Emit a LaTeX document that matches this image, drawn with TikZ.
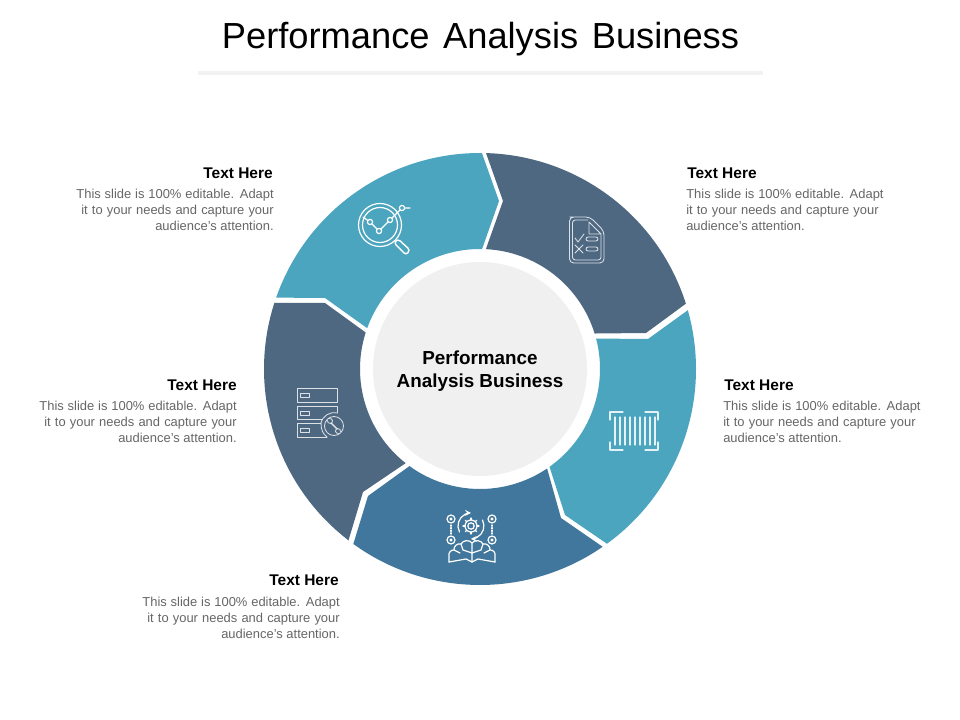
\documentclass[tikz,border=0pt]{standalone}
\usepackage{fontspec}
\setmainfont{Liberation Sans}
\definecolor{seg light}{HTML}{4CA5BF}
\definecolor{seg dark}{HTML}{4F6882}
\definecolor{seg mid}{HTML}{41779C}
\definecolor{disk gray}{HTML}{F0F0F0}
\definecolor{rule gray}{HTML}{F2F2F2}
\definecolor{body gray}{HTML}{666666}
\newcommand{\bodytext}{\makebox[140.3pt][s]{This slide is 100\% editable. Adapt}\\\makebox[136.8pt][s]{it to your needs and capture your}\\audience's attention.}

\begin{document}
\begin{tikzpicture}[x=0.025cm, y=-0.025cm]% pixels of the slide
            \tikzstyle{icon} = [white, line width=0.85pt, line cap=round, line join=round]
            \tikzstyle{thin icon} = [icon, line width=0.6pt, white!80!seg dark]
            \tikzstyle{head} = [font=\fontsize{11}{12}\selectfont\bfseries, inner sep=0pt]
            \tikzstyle{body} = [font=\fontsize{9.2}{11.34}\selectfont, text=body gray, inner sep=0pt]
            \useasboundingbox (0, 0) rectangle (960, 720);
            \fill[white] (0, 0) rectangle (960, 720);
            \node[font=\fontsize{25.8}{30}\selectfont, inner sep=0pt] (title) at (480.5, 39.5) {\makebox[367.8pt][s]{Performance Analysis Business}};
            \fill[rule gray] (198, 71.5) rectangle (763, 75.5);
            \begin{scope}[shift={(480, 369)}, y=0.025cm]
                \fill[seg light] (160.7:216) arc[start angle=160.7, end angle=89.5, radius=216] -- (19, 168) -- (89:120) arc[start angle=89, end angle=160.1, radius=120] -- (-155, 71) -- cycle;
                \fill[seg dark] (88.4:216) arc[start angle=88.4, end angle=17.6, radius=216] -- (166, 36) -- (17.2:120) arc[start angle=17.2, end angle=87.2, radius=120] -- (23, 168) -- cycle;
                \fill[seg light] (15.8:216) arc[start angle=15.8, end angle=-54, radius=216] -- (85, -146) -- (-54.6:120) arc[start angle=-54.6, end angle=14.7, radius=120] -- (168, 30) -- cycle;
                \fill[seg mid] (-55.4:216) arc[start angle=-55.4, end angle=-125.9, radius=216] -- (-112, -127) -- (-126:120) arc[start angle=-126, end angle=-56, radius=120] -- (81, -149) -- cycle;
                \fill[seg dark] (232.5:216) arc[start angle=232.5, end angle=162.2, radius=216] -- (-155, 66) -- (162.3:120) arc[start angle=162.3, end angle=231.7, radius=120] -- (-117, -123) -- cycle;
            \end{scope}
            \fill[disk gray] (480, 369) circle[radius=107];
            \node[inner sep=0pt, align=center, font=\fontsize{13.4}{16.3}\selectfont\bfseries] (disk) at (480, 371) {Performance\\Analysis Business};
            % text blocks
            \node[head, anchor=east] (head 1) at (273, 173) {Text Here};
            \node[body, anchor=north east, align=right] (body 1) at (274, 188.5) {\bodytext};
            \node[head, anchor=west] (head 2) at (687, 173) {Text Here};
            \node[body, anchor=north west, align=left] (body 2) at (686, 188.5) {\bodytext};
            \node[head, anchor=west] (head 3) at (724, 385) {Text Here};
            \node[body, anchor=north west, align=left] (body 3) at (723, 400.5) {\bodytext};
            \node[head, anchor=east] (head 4) at (339, 580) {Text Here};
            \node[body, anchor=north east, align=right] (body 4) at (340, 596.5) {\bodytext};
            \node[head, anchor=east] (head 5) at (237, 385) {Text Here};
            \node[body, anchor=north east, align=right] (body 5) at (237, 400.5) {\bodytext};
            % magnifier
            \draw[icon] (380, 225) circle[radius=21.5];
            \draw[icon] (380, 225) circle[radius=17.5];
            \draw[icon, line width=1pt, rounded corners=2pt] (394, 243) -- (398, 239) -- (410, 250) -- (406, 255) -- cycle;
            \draw[icon] (363, 217) -- (370, 222) -- (379, 231) -- (390, 220) -- (402, 208) -- (410, 208);
            \foreach \x/\y in {370/222, 379/231, 390/220, 402/208}
                \filldraw[icon, fill=seg light] (\x, \y) circle[radius=2.6];
            % document
            \draw[thin icon, rounded corners=3pt] (590, 217) -- (574, 217) -- (569.5, 217) -- (569.5, 263) -- (604, 263) -- (604, 231) -- cycle;
            \draw[thin icon, rounded corners=2pt] (588, 220) -- (572.5, 220) -- (572.5, 260) -- (601, 260) -- (601, 234);
            \draw[thin icon] (589, 222) -- (601, 234) -- (589, 234) -- cycle;
            \draw[thin icon] (575, 238) -- (578, 242) -- (584, 234);
            \draw[thin icon, rounded corners=1.5pt] (586, 237) rectangle (598, 241);
            \draw[thin icon] (575, 245) -- (583, 253) (583, 245) -- (575, 253);
            \draw[thin icon, rounded corners=1.5pt] (586, 247) rectangle (598, 251);
            % barcode
            \draw[icon, white!85!seg light] (610, 420) -- (610, 412) -- (623, 412);
            \draw[icon, white!85!seg light] (645, 412) -- (658, 412) -- (658, 420);
            \draw[icon, white!85!seg light] (610, 442) -- (610, 450) -- (623, 450);
            \draw[icon, white!85!seg light] (645, 450) -- (658, 450) -- (658, 442);
            \foreach \x in {615, 620, ..., 655}
                \draw[icon, white!85!seg light] (\x, 417) -- (\x, 445);
            % brain with gear
            \draw[icon] (471, 526) circle[radius=6];
            \draw[icon] (471, 526) circle[radius=3.2];
            \foreach \a in {0, 45, ..., 315}
                \draw[icon] (471, 526) ++(\a:6) -- ++(\a:2);
            \draw[icon, ->, >=stealth] (459.5, 532) arc[start angle=152, end angle=270, radius=13];
            \draw[icon, ->, >=stealth] (482.5, 520) arc[start angle=-27, end angle=90, radius=13];
            \foreach \x in {451, 492}
            {
                \draw[icon] (\x, 519) circle[radius=4];
                \draw[icon] (\x, 519) circle[radius=1];
                \draw[icon] (\x, 540) circle[radius=4];
                \draw[icon] (\x, 540) circle[radius=1];
                \draw[icon, densely dotted] (\x, 525) -- (\x, 534);
            }
            \draw[icon] (449, 562) -- (449, 556) to[bend left=60] (454, 550) to[bend left=60] (461, 544) to[bend left=60] (472, 543) -- (472, 562);
            \draw[icon] (495, 562) -- (495, 556) to[bend right=60] (490, 550) to[bend right=60] (483, 544) to[bend right=60] (472, 543);
            \draw[icon] (449, 562) -- (466, 559) -- (472, 562) (495, 562) -- (478, 559) -- (472, 562);
            \draw[icon] (454, 550) -- (460, 553) (461, 544) -- (463, 550) -- (472, 553);
            \draw[icon] (490, 550) -- (484, 553) (483, 544) -- (481, 550) -- (472, 553);
            % server rack
            \draw[thin icon] (297, 388) rectangle (337, 402);
            \draw[thin icon] (300, 393) rectangle (309, 397);
            \draw[thin icon] (322, 419) -- (297, 419) -- (297, 406) -- (337, 406) -- (337, 413);
            \draw[thin icon] (300, 411) rectangle (309, 415);
            \draw[thin icon] (321, 423) -- (297, 423) -- (297, 437) -- (327, 437);
            \draw[thin icon] (300, 428) rectangle (309, 432);
            \draw[thin icon] (321, 423) arc[start angle=193, end angle=283, radius=13.3];
            \draw[thin icon] (321, 423) .. controls (321, 430) and (323, 434) .. (327, 437);
            \draw[thin icon] (334, 426) circle[radius=9.5];
            \draw[thin icon, line width=1pt] (331, 423) -- (337, 429);
            \draw[thin icon] (330, 421) ++(260:2.5) arc[start angle=260, end angle=550, radius=2.5];
            \draw[thin icon] (338, 431) ++(80:2.5) arc[start angle=80, end angle=370, radius=2.5];
        \end{tikzpicture}
\end{document}
